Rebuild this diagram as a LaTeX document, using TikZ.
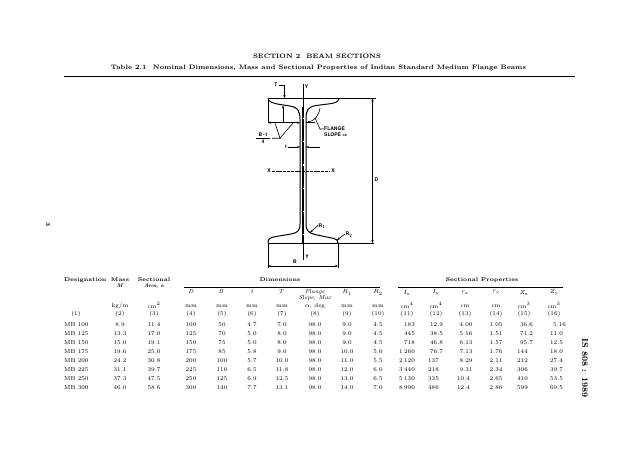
\documentclass[tikz,border=0pt]{standalone}
\usepackage{fontspec}
\usepackage{amsmath}
\usetikzlibrary{arrows.meta}
\newfontfamily\drawfont{TeX Gyre Heros}[Scale=1]
\tikzset{
  cell/.style={inner sep=0pt,font=\fontsize{5.8}{6.5}\selectfont,text=black},
  headb/.style={inner sep=0pt,font=\fontsize{5.4}{6.2}\selectfont\bfseries,align=center},
  titleb/.style={inner sep=0pt,font=\fontsize{6.4}{7}\selectfont\bfseries},
  dwg/.style={inner sep=0pt,font=\drawfont\bfseries\fontsize{5}{5.5}\selectfont},
  beam/.style={line width=1pt,black},
  dim/.style={line width=0.6pt,black},
  arr/.style={dim,-{Stealth[length=3pt,width=2.4pt]}},
  arrb/.style={dim,{Stealth[length=3pt,width=2.4pt]}-{Stealth[length=3pt,width=2.4pt]}},
}
\newcounter{colno}
\newcommand{\tcol}[3]{%
  \stepcounter{colno}%
  \edef\thiscol{\arabic{colno}}%
  \foreach \t [count=\r] in {#3}{%
    \pgfmathsetmacro{\yy}{324.5+(\r-1)*9.07}
    \node[cell,anchor=#2] (c\thiscol r\r) at (#1,\yy) {\t};
  }%
}
\newcommand{\thsp}{\kern1.5pt}
\begin{document}
\begin{tikzpicture}[x=1pt,y=-1pt]
\useasboundingbox (0,0) rectangle (638,451);
\fill[white] (0,0) rectangle (638,451);

% titles
\node[titleb] (sect) at (317,56) {SECTION 2\ \ BEAM SECTIONS};
\node[titleb] (tab) at (318.5,67.5) {Table 2.1\quad Nominal Dimensions, Mass and Sectional Properties of Indian Standard Medium Flange Beams};
\draw[line width=1.6pt] (64,76.5) coordinate (barl) -- (575,76.5) coordinate (barr);

% side texts
\node[cell,rotate=-90,font=\fontsize{6}{7}\selectfont\bfseries] (pg) at (48,225) {3};
\node[inner sep=0pt,rotate=-90,font=\fontsize{8.6}{9}\selectfont\bfseries] (is) at (585,368) {IS 808 : 1989};

% beam outline
\draw[beam] (268,98.3) coordinate (tl) -- (339,98.3) coordinate (tr);
\draw[beam] (tl) .. controls (269,102) and (272,103) .. (280,104.5) -- (290,106)
  .. controls (297,107) and (300,110) .. (300,119) -- (300,224)
  .. controls (300,231) and (297,233) .. (291,234) -- (276,236.5)
  .. controls (270,237.5) and (268,238.5) .. (268,243.2) coordinate (bl);
\draw[beam] (tr) .. controls (338,102) and (336,103) .. (328,104)
  -- (316,105.5) .. controls (308,107) and (306,110) .. (306,119) -- (306,224)
  .. controls (306,231) and (309,233) .. (315,234.5) -- (334,238.5)
  .. controls (337,239.2) and (338,240.5) .. (338,243.2) coordinate (br);
\draw[beam] (bl) -- (br);
% web core and axis
\draw[line width=1.4pt] (303,107) coordinate (wt) -- (303,243) coordinate (wb);
\draw[line width=0.8pt,white,dash pattern=on 1.2pt off 22pt] (303,118) -- (303,236);
\draw[dim] (303,84) coordinate (yt) -- (wt);
\draw[dim] (wb) -- (303,260) coordinate (yb);
\node[dwg] (yu) at (306.5,87) {Y};
\node[dwg] (yd) at (307,257) {Y};

% X-X
\node[dwg] (xl) at (269,171) {X};
\node[dwg] (xr) at (333,171) {X};
\draw[dim,dash pattern=on 3pt off 0.8pt] ([xshift=1pt]xl.east) -- ([xshift=-1pt]xr.west);

% D dimension
\draw[dim] (tr) -- (376,98.3) coordinate (dt);
\draw[dim] (br) -- (374,243.2) coordinate (db);
\draw[arrb] (372.5,98.5) -- (372.5,243);
\node[dwg] (dl) at (376.5,180) {D};

% B dimension
\draw[dim] (bl) -- (268,268) coordinate (bbl);
\draw[dim] (br) -- (338,268) coordinate (bbr);
\draw[arrb] (268,266) -- (338,266);
\node[dwg] (bb) at (295,262) {B};

% T
\node[dwg] (tt) at (276,85) {T};
\draw[arr] ([xshift=1.5pt]tt.east) -- (284.5,85) -- (284.5,98);
\draw[arr] (283,123) -- (283,105.5);

% (B-t)/4
\draw[dim] (tl) -- (268,123);
\draw[arrb] (268,122.7) -- (300,122.7);
\draw[dim] (306,122.7) -- (315,122.7);
\draw[arr] (320,108) .. controls (319,116) and (314,121) .. (306.5,122.5);
\node[dwg] (fn) at (263,134.8) {B\,-\,t};
\node[dwg] (fd) at (263,142) {4};
\draw[dim] (256,138.2) -- (270,138.2);
\draw[dim] (272,138.2) -- (280,138.2) -- (275,123);
\draw[dim] (280,138.2) -- (293,123);

% t
\node[dwg] (wl) at (286,147) {t};
\draw[arr] (288,147) -- (300,147);
\draw[arr] (320,147) -- (306,147);

% flange slope
\draw[dim] (315,118) -- (320,129) -- (323.5,129);
\node[dwg,anchor=west] (fl) at (324,129) {FLANGE};
\node[dwg,anchor=west] (sl) at (324,134.5) {SLOPE $\boldsymbol{\alpha}$};

% R1,R2
\node[dwg] (r1) at (322,226) {R$_{\mathbf 1}$};
\draw[arr] (318.5,225) -- (310,232.5);
\node[dwg] (r2) at (349,234.5) {R$_{\mathbf 2}$};
\draw[arr] (345,234) -- (337,240);

% table head
\node[headb,anchor=west] (h1) at (64,280) {Designation};
\node[headb] (h2) at (120,283) {Mass\\[-0.3pt]\textit{M}};
\node[headb] (h3) at (154,283) {Sectional\\[-0.3pt]\textit{Area, a}};
\node[headb] (h4) at (280,280) {Dimensions};
\node[headb] (h5) at (482,280) {Sectional Properties};
\draw[line width=0.4pt] (184,287) coordinate (r1a) -- (380,287) coordinate (r1b);
\draw[line width=0.4pt] (398,287) coordinate (r2a) -- (563,287) coordinate (r2b);

% column symbols
\node[cell] (s1) at (191,292) {\textit{D}};
\node[cell] (s2) at (221,292) {\textit{B}};
\node[cell] (s3) at (252,292) {\textit{t}};
\node[cell] (s4) at (281,292) {\textit{T}};
\node[cell,align=center] (s5) at (315,295) {\textit{Flange}\\[-0.6pt]\textit{Slope, Max}};
\node[cell] (s6) at (347,292.5) {$R_1$};
\node[cell] (s7) at (378,292.5) {$R_2$};
\node[cell] (s8) at (407,292.5) {$I_{\mathrm x}$};
\node[cell] (s9) at (436,292.5) {$I_{\mathrm y}$};
\node[cell] (s10) at (465,292.5) {$r_{\mathrm x}$};
\node[cell] (s11) at (496,292.5) {$r_{\mathrm y}$};
\node[cell] (s12) at (524,292.5) {$Z_{\mathrm x}$};
\node[cell] (s13) at (554,292.5) {$Z_{\mathrm y}$};

% units
\node[cell] (u1) at (120,306) {kg/m};
\node[cell] (u2) at (154,305.5) {cm$^2$};
\node[cell] (u3) at (191,306) {mm};
\node[cell] (u4) at (222,306) {mm};
\node[cell] (u5) at (252,306) {mm};
\node[cell] (u6) at (282,306) {mm};
\node[cell] (u7) at (315,306) {$\alpha$, deg};
\node[cell] (u8) at (347,306) {mm};
\node[cell] (u9) at (378,306) {mm};
\node[cell] (u10) at (407,305.5) {cm$^4$};
\node[cell] (u11) at (436,305.5) {cm$^4$};
\node[cell] (u12) at (465,306) {cm};
\node[cell] (u13) at (496,306) {cm};
\node[cell] (u14) at (524,305.5) {cm$^3$};
\node[cell] (u15) at (554,305.5) {cm$^3$};

% column numbers
\node[cell] (n1) at (76,314.5) {(1)};
\node[cell] (n2) at (120,314.5) {(2)};
\node[cell] (n3) at (154,314.5) {(3)};
\node[cell] (n4) at (191,314.5) {(4)};
\node[cell] (n5) at (222,314.5) {(5)};
\node[cell] (n6) at (252,314.5) {(6)};
\node[cell] (n7) at (282,314.5) {(7)};
\node[cell] (n8) at (315,314.5) {(8)};
\node[cell] (n9) at (347,314.5) {(9)};
\node[cell] (n10) at (378,314.5) {(10)};
\node[cell] (n11) at (407,314.5) {(11)};
\node[cell] (n12) at (436,314.5) {(12)};
\node[cell] (n13) at (465,314.5) {(13)};
\node[cell] (n14) at (496,314.5) {(14)};
\node[cell] (n15) at (524,314.5) {(15)};
\node[cell] (n16) at (554,314.5) {(16)};

% table body
\tcol{64}{west}{MB 100,MB 125,MB 150,MB 175,MB 200,MB 225,MB 250,MB 300}
\tcol{120}{center}{8.9,13.3,15.0,19.6,24.2,31.1,37.3,46.0}
\tcol{154}{center}{11.4,17.0,19.1,25.0,30.8,39.7,47.5,58.6}
\tcol{191}{center}{100,125,150,175,200,225,250,300}
\tcol{222}{center}{50,70,75,85,100,110,125,140}
\tcol{252}{center}{4.7,5.0,5.0,5.8,5.7,6.5,6.9,7.7}
\tcol{282}{center}{7.0,8.0,8.0,9.0,10.0,11.8,12.5,13.1}
\tcol{315}{center}{98.0,98.0,98.0,98.0,98.0,98.0,98.0,98.0}
\tcol{347}{center}{9.0,9.0,9.0,10.0,11.0,12.0,13.0,14.0}
\tcol{378}{center}{4.5,4.5,4.5,5.0,5.5,6.0,6.5,7.0}
\tcol{415}{east}{183,445,718,1\thsp 260,2\thsp 120,3\thsp 440,5\thsp 130,8\thsp 990}
\tcol{428}{west}{\kern2pt 12.9,\kern2pt 38.5,\kern2pt 46.8,\kern2pt 76.7,137,218,335,486}
\tcol{466}{center}{4.00,5.16,6.13,7.13,8.29,9.31,\kern-5pt 10.4,\kern-5pt 12.4}
\tcol{496}{center}{1.05,1.51,1.57,1.76,2.11,2.34,2.65,2.86}
\tcol{517}{west}{\kern3pt 36.6,\kern3pt 71.2,\kern3pt 95.7,144,212,306,410,599}
\tcol{550}{west}{\kern3pt 5.16,11.0,12.5,18.0,27.4,39.7,53.5,69.5}
\end{tikzpicture}
\end{document}
